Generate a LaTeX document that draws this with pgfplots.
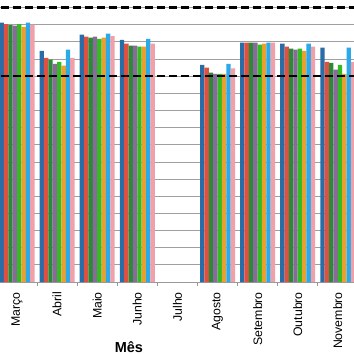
\documentclass[border=0pt]{standalone}
\usepackage{fontspec}
\setmainfont{Liberation Sans}
\usepackage{pgfplots}
\pgfplotsset{compat=1.18}
\definecolor{cA}{HTML}{2A6CA6}
\definecolor{cB}{HTML}{E05040}
\definecolor{cC}{HTML}{2A8A3A}
\definecolor{cD}{HTML}{8A6A9A}
\definecolor{cE}{HTML}{33BB22}
\definecolor{cF}{HTML}{E8A030}
\definecolor{cG}{HTML}{2AAAE8}
\definecolor{cH}{HTML}{F0A0A8}
\begin{document}
\begin{tikzpicture}
\begin{axis}[
  at={(0,0)}, anchor=south west,
  scale only axis, width=354pt, height=282pt,
  xmin=-0.424, xmax=8.404, ymin=0, ymax=82.2,
  axis lines*=left,
  y axis line style={draw=none},
  ybar=0pt, bar width=4.375pt,
  ytick={0,5,...,80}, yticklabels={}, ytick style={draw=none},
  ymajorgrids, grid style={draw=gray!75, line width=0.8pt},
  xtick={0,...,8},
  xticklabels={Março,Abril,Maio,Junho,Julho,Agosto,Setembro,Outubro,Novembro},
  major x tick style={draw=none}, major tick length=0pt,
  minor xtick={-0.5,0.5,...,8.5}, minor tick length=3.5pt, tick align=outside,
  minor x tick style={draw=gray!80, line width=0.8pt},
  x axis line style={draw=gray!80, line width=0.8pt},
  xticklabel style={rotate=90, anchor=east, inner sep=0pt, xshift=-10pt, font=\fontsize{12.3}{14}\selectfont},
  xlabel={Mês},
  xlabel style={at={(axis description cs:0.364,0)}, anchor=base, yshift=-70pt, font=\fontsize{14.5}{16}\selectfont\bfseries},
  every axis plot/.append style={draw=none},
  clip=true,
]
\addplot[fill=cA] coordinates {(0,75.6) (1,67.4) (2,72.1) (3,70.6) (5,63.3) (6,69.8) (7,69.5) (8,68.3)};
\addplot[fill=cB] coordinates {(0,75.2) (1,65.3) (2,71.5) (3,69.5) (5,62.5) (6,69.8) (7,68.6) (8,64.2)};
\addplot[fill=cC] coordinates {(0,74.9) (1,64.8) (2,71.2) (3,68.9) (5,61.0) (6,69.8) (7,68.0) (8,63.9)};
\addplot[fill=cD] coordinates {(0,74.7) (1,63.6) (2,71.5) (3,68.9) (5,60.7) (6,69.8) (7,67.7) (8,61.9)};
\addplot[fill=cE] coordinates {(0,75.2) (1,64.2) (2,70.9) (3,68.6) (5,60.7) (6,69.2) (7,68.0) (8,63.3)};
\addplot[fill=cF] coordinates {(0,74.4) (1,63.1) (2,71.2) (3,68.6) (5,60.7) (6,69.5) (7,67.4) (8,60.7)};
\addplot[fill=cG] coordinates {(0,75.6) (1,67.7) (2,72.4) (3,70.9) (5,63.6) (6,69.8) (7,69.5) (8,68.3)};
\addplot[fill=cH] coordinates {(0,75.0) (1,65.3) (2,71.7) (3,69.5) (5,62.3) (6,69.8) (7,68.6) (8,64.2)};
\addplot[sharp plot, draw=black, line width=2.2pt, dash pattern=on 8pt off 4pt, forget plot] coordinates {(-1,80) (9,80)};
\addplot[sharp plot, draw=black, line width=2.2pt, dash pattern=on 8pt off 4pt, forget plot] coordinates {(-1,60) (9,60)};
\end{axis}
\pgfresetboundingbox
\path[use as bounding box] (0,-72pt) rectangle (354pt,282pt);
\end{tikzpicture}
\end{document}
